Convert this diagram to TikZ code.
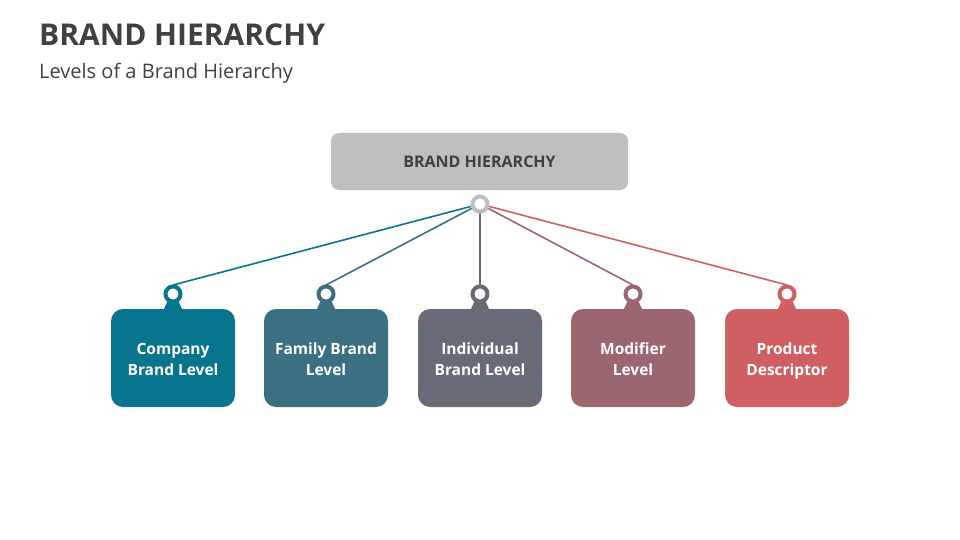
\documentclass[tikz,border=0pt]{standalone}
\usepackage{fontspec}
\setmainfont{Open Sans}
\definecolor{c1}{HTML}{08758E}\definecolor{c2}{HTML}{3A7082}\definecolor{c3}{HTML}{686A78}\definecolor{c4}{HTML}{9C6670}\definecolor{c5}{HTML}{CF5F63}
\begin{document}
\begin{tikzpicture}[x=1pt,y=-1pt,
  lvl/.style={rounded corners=12pt,minimum width=124pt,minimum height=98pt,inner sep=0pt},
  lvltext/.style={text=white,font=\fontsize{15.5}{21}\selectfont\bfseries,align=center,inner sep=0pt},
  ring/.style={circle,draw=#1,line width=4pt,fill=white,minimum size=15pt,inner sep=0pt},
  conn/.style={draw=#1,line width=1.6pt}]
\useasboundingbox (0,0) rectangle (960,540);
\node[anchor=west,font=\fontsize{30}{34}\selectfont\bfseries,text=black!75,inner sep=0pt] (title) at (39,35) {BRAND HIERARCHY};
\node[anchor=west,font=\fontsize{20}{24}\selectfont,text=black!75,inner sep=0pt] (sub) at (39,73) {Levels of a Brand Hierarchy};
\node[fill=black!25,rounded corners=8pt,minimum width=297pt,minimum height=57pt,font=\fontsize{16}{18}\selectfont\bfseries,text=black!75] (top) at (479.5,161.5) {BRAND HIERARCHY};
\coordinate (hubc) at (480,204);
\foreach \i/\x/\c/\t in {a/173/c1/{Company\strut\\Brand Level\strut},b/326/c2/{Family Brand\strut\\Level\strut},c/480/c3/{Individual\strut\\Brand Level\strut},d/633/c4/{Modifier\strut\\Level\strut},e/787/c5/{Product\strut\\Descriptor\strut}}{
  \node[lvl,fill=\c] (\i) at (\x,358) {};
  \node[lvltext] (l\i) at (\x,361) {\t};
  \fill[\c] (\x-9,309) -- (\x-5,300) -- (\x+5,300) -- (\x+9,309) -- cycle;
  \coordinate (t\i) at (\x,285);
  \draw[conn=\c] (hubc) -- (t\i);
  \node[ring=\c] (r\i) at (\x,294) {};
}
\node[ring=black!25] (hub) at (hubc) {};
\end{tikzpicture}
\end{document}
